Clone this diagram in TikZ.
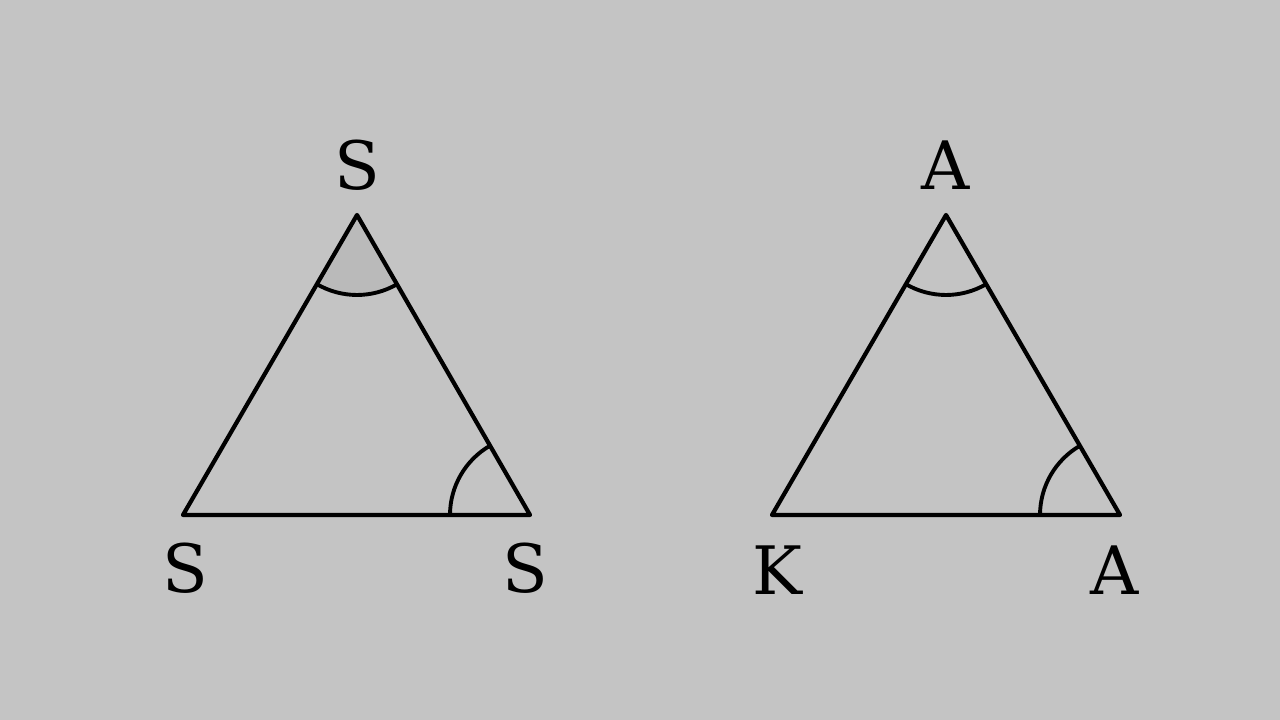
\documentclass[tikz,border=0pt]{standalone}
\usepackage{tkz-euclide}
\usepackage{fontspec}
\setmainfont{DejaVu Serif}
\definecolor{bggray}{RGB}{196,196,196}
\definecolor{shade}{RGB}{186,186,186}

\begin{document}
\begin{tikzpicture}[lbl/.style={font=\fontsize{19}{22}\selectfont,inner sep=0pt}]
    \fill[bggray] (0,0) rectangle (12.8,7.2);
    \tkzDefPoints{3.57/5.05/T1,1.83/2.05/L1,5.30/2.05/R1}
    \tkzDefPoints{9.46/5.05/T2,7.72/2.05/L2,11.20/2.05/R2}
    \tkzFillAngle[size=0.8,fill=shade](L1,T1,R1)
    \tkzDrawPolygon[line width=1.2pt](T1,L1,R1)
    \tkzDrawPolygon[line width=1.2pt](T2,L2,R2)
    \tkzMarkAngles[size=0.8,line width=1.1pt](L1,T1,R1 T1,R1,L1 L2,T2,R2 T2,R2,L2)
    \node[lbl] (s1) at (3.57,5.55) {S};
    \node[lbl] (s2) at (1.85,1.52) {S};
    \node[lbl] (s3) at (5.25,1.52) {S};
    \node[lbl] (a1) at (9.46,5.55) {A};
    \node[lbl] (k1) at (7.77,1.50) {K};
    \node[lbl] (a2) at (11.15,1.50) {A};
  \end{tikzpicture}
\end{document}
